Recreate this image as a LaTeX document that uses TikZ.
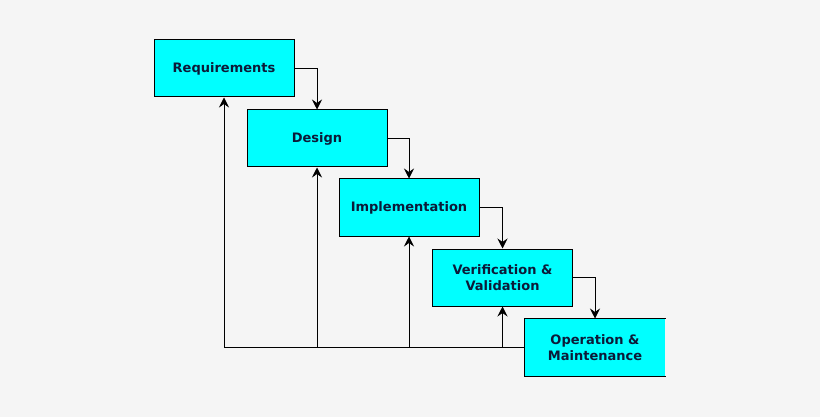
\documentclass[tikz,border=0pt]{standalone}
\usepackage{fontspec}
\setmainfont{DejaVu Sans}
\usetikzlibrary{arrows.meta}
\definecolor{bg}{RGB}{245,245,245}
\definecolor{boxc}{RGB}{0,255,255}
\definecolor{txt}{RGB}{12,26,56}
\begin{document}
\begin{tikzpicture}[x=1pt,y=-1pt,
  phase/.style={rectangle, fill=boxc, draw=black, line width=1pt,
    minimum width=140pt, minimum height=57pt, inner sep=0pt,
    font=\bfseries\fontsize{13}{16.5}\selectfont, text=txt, align=center},
  flow/.style={line width=1pt, -{Stealth[length=10pt,width=10pt,inset=3.5pt,line width=0.8pt]}}]
\fill[bg] (0,0) rectangle (820,417);
\useasboundingbox (0,0) rectangle (820,417);
\node[phase] (req) at (224,68.5) {Requirements};
\node[phase] (des) at (317,138.5) {Design};
\node[phase] (imp) at (409,207.5) {Implementation};
\node[phase] (ver) at (502.5,277.5) {Verification \&\\Validation};
\node[phase, draw=none] (om) at (595,347.5) {Operation \&\\Maintenance};
\draw[line width=1pt] (om.north east) -- (om.north west) -- (om.south west) -- (om.south east);
% forward flow
\draw[flow] (req.east) -| (des.north);
\draw[flow] (des.east) -| (imp.north);
\draw[flow] (imp.east) -| (ver.north);
\draw[flow] (ver.east) -| (om.north);
% feedback
\coordinate (fb) at (req.south |- om.west);
\draw[line width=1pt] (om.west) -- (fb);
\draw[flow] (fb) -- (req.south);
\draw[flow] (des.south |- om.west) -- (des.south);
\draw[flow] (imp.south |- om.west) -- (imp.south);
\draw[flow] (ver.south |- om.west) -- (ver.south);
\end{tikzpicture}
\end{document}
